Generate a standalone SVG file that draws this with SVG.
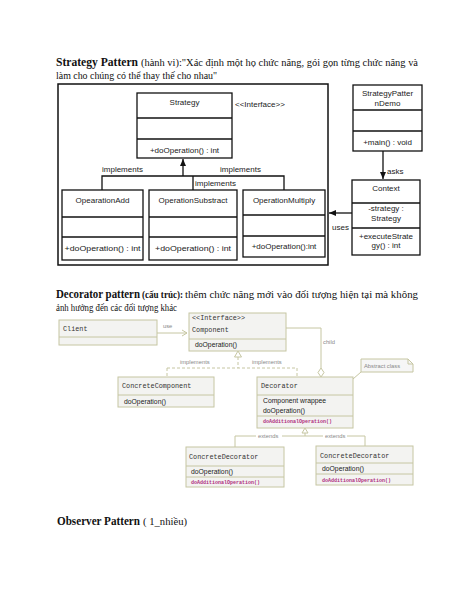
<svg xmlns="http://www.w3.org/2000/svg" width="474" height="613" viewBox="0 0 474 613">
<style>
.h{font-family:"Liberation Serif","Times New Roman",serif;fill:#111}
.hb{font-weight:bold;font-size:11.5px}
.hr{font-size:10px}
.sb{fill:#fff;stroke:#111;stroke-width:1.3}
.sl{stroke:#111;stroke-width:1.3;fill:none}
.st{font-family:"Liberation Sans",Arial,sans-serif;font-size:8px;fill:#222}
.db{fill:#f3f3f1;stroke:#c6c6a2;stroke-width:1}
.dl{stroke:#c6c6a2;stroke-width:1;fill:none}
.dd{stroke:#c6c6a2;stroke-width:1;fill:none;stroke-dasharray:3,2}
.dm{font-family:"Liberation Mono","Courier New",monospace;font-size:6.8px;fill:#333}
.ds{font-family:"Liberation Sans",Arial,sans-serif;font-size:6.8px;fill:#222}
.dx{font-family:"Liberation Mono","Courier New",monospace;font-size:5px;font-weight:bold;fill:#b0307f}
.dg{font-family:"Liberation Sans",Arial,sans-serif;font-size:5.8px;fill:#888}
</style>
<defs>
<marker id="ah" markerWidth="8" markerHeight="8" refX="7" refY="4" orient="auto" markerUnits="userSpaceOnUse">
<path d="M0,1 L7,4 L0,7 Z" fill="#111"/>
</marker>
<marker id="oh" markerWidth="8" markerHeight="8" refX="6" refY="4" orient="auto" markerUnits="userSpaceOnUse">
<path d="M1,1 L6,4 L1,7" fill="none" stroke="#c6c6a2" stroke-width="1"/>
</marker>
</defs>
<rect width="474" height="613" fill="#fff"/>

<!-- headings -->
<g id="heading-strategy">
<text class="h hb" x="56" y="66" textLength="82" lengthAdjust="spacingAndGlyphs">Strategy Pattern</text>
<text class="h hr" x="141" y="66" textLength="277" lengthAdjust="spacingAndGlyphs">(hành vi):"Xác định một họ chức năng, gói gọn từng chức năng và</text>
<text class="h hr" x="56" y="79" textLength="161" lengthAdjust="spacingAndGlyphs">làm cho chúng có thể thay thế cho nhau"</text>
</g>

<!-- strategy frame -->
<rect x="58" y="84" width="270" height="181" fill="none" stroke="#111" stroke-width="1.5"/>

<g id="strategy">
<rect class="sb" x="137" y="93" width="95" height="65"/>
<line class="sl" x1="137" y1="118" x2="232" y2="118"/>
<line class="sl" x1="137" y1="139" x2="232" y2="139"/>
<text class="st" x="184.5" y="105" text-anchor="middle">Strategy</text>
<text class="st" x="184.5" y="153" text-anchor="middle">+doOperation()  : int</text>
<text class="st" x="235" y="107" font-size="7">&lt;&lt;Interface&gt;&gt;</text>
</g>

<g id="operation-add">
<rect class="sb" x="62" y="190" width="81" height="70"/>
<line class="sl" x1="62" y1="217" x2="143" y2="217"/>
<line class="sl" x1="62" y1="237" x2="143" y2="237"/>
<text class="st" x="102.5" y="203" text-anchor="middle">OpearationAdd</text>
<text class="st" x="102.5" y="251" text-anchor="middle" textLength="76" lengthAdjust="spacingAndGlyphs">+doOperation()  : int</text>
</g>

<g id="operation-substract">
<rect class="sb" x="149" y="190" width="88" height="70"/>
<line class="sl" x1="149" y1="217" x2="237" y2="217"/>
<line class="sl" x1="149" y1="237" x2="237" y2="237"/>
<text class="st" x="193" y="203" text-anchor="middle">OperationSubstract</text>
<text class="st" x="193" y="251" text-anchor="middle" textLength="76" lengthAdjust="spacingAndGlyphs">+doOperation()  : int</text>
</g>

<g id="operation-multiply">
<rect class="sb" x="243" y="190" width="82" height="67"/>
<line class="sl" x1="243" y1="215" x2="325" y2="215"/>
<line class="sl" x1="243" y1="236" x2="325" y2="236"/>
<text class="st" x="284" y="203" text-anchor="middle">OperationMultiply</text>
<text class="st" x="284" y="249" text-anchor="middle">+doOperation():int</text>
</g>

<g id="strategy-pattern-demo">
<rect class="sb" x="353" y="85" width="69" height="66"/>
<line class="sl" x1="353" y1="110" x2="422" y2="110"/>
<line class="sl" x1="353" y1="131" x2="422" y2="131"/>
<text class="st" x="387.5" y="96" text-anchor="middle">StrategyPatter</text>
<text class="st" x="387.5" y="106" text-anchor="middle">nDemo</text>
<text class="st" x="387.5" y="145" text-anchor="middle">+main() : void</text>
</g>

<g id="context">
<rect class="sb" x="352" y="180" width="68" height="75"/>
<line class="sl" x1="352" y1="203" x2="420" y2="203"/>
<line class="sl" x1="352" y1="228" x2="420" y2="228"/>
<text class="st" x="386" y="191" text-anchor="middle">Context</text>
<text class="st" x="386" y="211" text-anchor="middle">-strategy :</text>
<text class="st" x="386" y="221" text-anchor="middle">Strategy</text>
<text class="st" x="386" y="239" text-anchor="middle">+executeStrate</text>
<text class="st" x="386" y="248" text-anchor="middle">gy() : int</text>
</g>

<g id="strategy-connectors">
<path class="sl" d="M183,176 V159" marker-end="url(#ah)"/>
<path class="sl" d="M102,190 V176 H284 V190 M193,176 V190"/>
<text class="st" x="102" y="172">implements</text>
<text class="st" x="220" y="172">implements</text>
<text class="st" x="195" y="186">implements</text>
<path class="sl" d="M383,151 V179" marker-end="url(#ah)"/>
<text class="st" x="387" y="174">asks</text>
<path class="sl" d="M352,213 H329" marker-end="url(#ah)"/>
<text class="st" x="332" y="230">uses</text>
</g>

<g id="heading-decorator">
<text class="h hb" x="56" y="298" textLength="84" lengthAdjust="spacingAndGlyphs">Decorator pattern</text>
<text class="h hr" x="142" y="298" font-weight="bold" textLength="41" lengthAdjust="spacingAndGlyphs">(cấu trúc):</text>
<text class="h hr" x="185" y="298" textLength="233" lengthAdjust="spacingAndGlyphs">thêm chức năng mới vào đối tượng hiện tại mà không</text>
<text class="h hr" x="56" y="311" textLength="121" lengthAdjust="spacingAndGlyphs">ảnh hưởng đến các đối tượng khác</text>
</g>

<g id="client">
<rect class="db" x="59" y="320" width="98" height="25"/>
<line class="dl" x1="59" y1="337" x2="157" y2="337"/>
<text class="dm" x="63" y="331">Client</text>
</g>

<g id="component">
<rect class="db" x="189" y="313" width="97" height="38"/>
<line class="dl" x1="189" y1="339" x2="286" y2="339"/>
<text class="dm" x="192" y="320" font-size="5.2">&lt;&lt;Interface&gt;&gt;</text>
<text class="dm" x="192" y="332">Component</text>
<text class="ds" x="195" y="347">doOperation()</text>
</g>

<g id="concrete-component">
<rect class="db" x="118" y="377" width="96" height="30"/>
<line class="dl" x1="118" y1="395" x2="214" y2="395"/>
<text class="dm" x="122" y="388">ConcreteComponent</text>
<text class="ds" x="124" y="404">doOperation()</text>
</g>

<g id="decorator">
<rect class="db" x="257" y="377" width="96" height="51"/>
<line class="dl" x1="257" y1="395" x2="353" y2="395"/>
<line class="dl" x1="257" y1="416" x2="353" y2="416"/>
<text class="dm" x="261" y="388">Decorator</text>
<text class="ds" x="263" y="403">Component wrappee</text>
<text class="ds" x="263" y="413">doOperation()</text>
<text class="dx" x="263" y="423">doAdditionalOperation()</text>
</g>

<g id="abstract-class-note">
<path d="M361,359 H408 L413,364 V372 H361 Z" fill="#f6f6f6" stroke="#c6c6a2" stroke-width="1"/>
<path d="M408,359 V364 H413" fill="none" stroke="#c6c6a2" stroke-width="1"/>
<text class="dg" x="364" y="368" fill="#555" font-size="5.2">Abstract class</text>
</g>

<g id="concrete-decorator-1">
<rect class="db" x="186" y="447" width="98" height="40"/>
<line class="dl" x1="186" y1="466" x2="284" y2="466"/>
<line class="dl" x1="186" y1="477" x2="284" y2="477"/>
<text class="dm" x="189" y="459">ConcreteDecorator</text>
<text class="ds" x="191" y="474">doOperation()</text>
<text class="dx" x="191" y="484">doAdditionalOperation()</text>
</g>

<g id="concrete-decorator-2">
<rect class="db" x="316" y="446" width="97" height="39"/>
<line class="dl" x1="316" y1="463" x2="413" y2="463"/>
<line class="dl" x1="316" y1="474" x2="413" y2="474"/>
<text class="dm" x="320" y="458">ConcreteDecorator</text>
<text class="ds" x="322" y="471">doOperation()</text>
<text class="dx" x="322" y="482">doAdditionalOperation()</text>
</g>

<g id="decorator-connectors">
<path class="dl" d="M157,333 H187" marker-end="url(#oh)"/>
<text class="dg" x="163" y="328">use</text>
<polygon points="238,351 234.5,357 241.5,357" fill="#fff" stroke="#c6c6a2" stroke-width="1"/>
<path class="dd" d="M238,357 V368 M167,368 H297 M167,368 V377 M297,368 V377"/>
<text class="dg" x="180" y="364">implements</text>
<text class="dg" x="252" y="364">implements</text>
<path class="dl" d="M286,328 H321 V368"/>
<polygon points="321,368 324,372.5 321,377 318,372.5" fill="#fff" stroke="#c6c6a2" stroke-width="1"/>
<text class="dg" x="323" y="344">child</text>
<path class="dl" d="M361,372 L353,379"/>
<polygon points="305,428 302,433 308,433" fill="#fff" stroke="#c6c6a2" stroke-width="1"/>
<path class="dl" d="M305,433 V436 M235,447 V436 H256 M282,436 H323 M347,436 H365 V446"/>
<text class="dg" x="258" y="438">extends</text>
<text class="dg" x="325" y="438">extends</text>
</g>

<g id="heading-observer">
<text class="h hb" x="57" y="525" textLength="83" lengthAdjust="spacingAndGlyphs">Observer Pattern</text>
<text class="h hr" x="143" y="525" textLength="44" lengthAdjust="spacingAndGlyphs">( 1_nhiều)</text>
</g>
</svg>
